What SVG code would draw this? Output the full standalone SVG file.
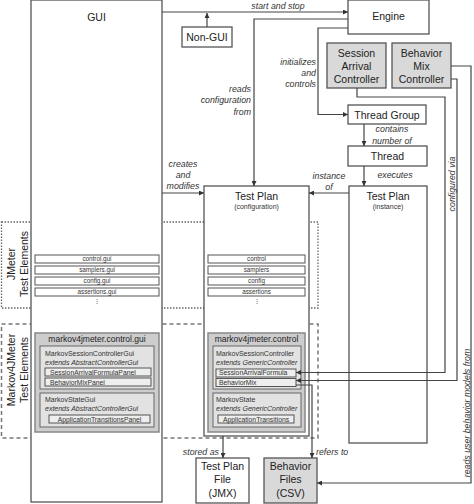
<svg xmlns="http://www.w3.org/2000/svg" width="474" height="504" viewBox="0 0 474 504">
<defs>
<marker id="ah" viewBox="0 0 6 6" refX="6" refY="3" markerWidth="5" markerHeight="5" markerUnits="userSpaceOnUse" orient="auto"><path d="M0,0 L6,3 L0,6 z" fill="#333"/></marker>
<style>
.box{fill:#fff;stroke:#555;stroke-width:1.3}
.gbox{fill:#d9d9d9;stroke:#555;stroke-width:1.3}
.t{font-family:"Liberation Sans",Arial,sans-serif;font-size:10.5px;fill:#222;text-anchor:middle}
.l{font-family:"Liberation Sans",Arial,sans-serif;font-size:8.8px;font-style:italic;fill:#333}
.s{font-family:"Liberation Sans",Arial,sans-serif;font-size:7px;fill:#333;text-anchor:middle}
.e{font-family:"Liberation Sans",Arial,sans-serif;font-size:6.3px;fill:#333;text-anchor:middle}
.m{font-family:"Liberation Sans",Arial,sans-serif;font-size:7px;fill:#333}
.mi{font-style:italic}
.el{fill:#fff;stroke:#555;stroke-width:1}
.outer{fill:#cdcdcd;stroke:#888;stroke-width:1.5}
.inner{fill:#e2e2e2;stroke:#666;stroke-width:1}
.sub{fill:#eeeeee;stroke:#555;stroke-width:1}
.con{fill:none;stroke:#444;stroke-width:1.2}
.dot{fill:none;stroke:#666;stroke-width:1.3;stroke-dasharray:1.5 1.5}
.dash{fill:none;stroke:#777;stroke-width:1.5;stroke-dasharray:4 3}
</style>
</defs>
<rect width="474" height="504" fill="#fff"/>

<g id="jmeter-test-elements">
<rect class="dot" x="1.5" y="222" width="316.5" height="86"/>
<text class="t" transform="translate(15,264) rotate(-90)">JMeter</text>
<text class="t" transform="translate(28,264) rotate(-90)">Test Elements</text>
</g>
<g id="markov-test-elements">
<rect class="dash" x="1.5" y="324" width="316.5" height="114"/>
<text class="t" transform="translate(15,370) rotate(-90)">Markov4JMeter</text>
<text class="t" transform="translate(28,370) rotate(-90)">Test Elements</text>
</g>

<g id="gui">
<rect class="box" x="31" y="0" width="131" height="502" fill="none"/>
<text class="t" x="96.5" y="21">GUI</text>
<rect class="el" x="35" y="255" width="124" height="8"/><text class="e" x="97" y="261.3">control.gui</text>
<rect class="el" x="35" y="266" width="124" height="8"/><text class="e" x="97" y="272.3">samplers.gui</text>
<rect class="el" x="35" y="277" width="124" height="8"/><text class="e" x="97" y="283.3">config.gui</text>
<rect class="el" x="35" y="288" width="124" height="8"/><text class="e" x="97" y="294.3">assertions.gui</text>
<text class="e" x="97" y="303">⋮</text>
<rect class="outer" x="35" y="333" width="124" height="99"/>
<text class="t" x="97" y="342" style="font-size:8.5px">markov4jmeter.control.gui</text>
<rect class="inner" x="40" y="346" width="114" height="43"/>
<text class="m" x="45" y="355.5">MarkovSessionControllerGui</text>
<text class="m mi" x="45" y="364.5">extends AbstractControllerGui</text>
<rect class="sub" x="45" y="368" width="106" height="8"/><text class="m" x="50" y="374.5" style="font-size:6.8px">SessionArrivalFormulaPanel</text>
<rect class="sub" x="45" y="378" width="106" height="8"/><text class="m" x="50" y="384.5" style="font-size:6.8px">BehaviorMixPanel</text>
<rect class="inner" x="40" y="393" width="114" height="34"/>
<text class="m" x="45" y="401.5">MarkovStateGui</text>
<text class="m mi" x="45" y="410.5">extends AbstractControllerGui</text>
<rect class="sub" x="49" y="415" width="101" height="8"/><text class="s" x="99.5" y="421.5" style="font-size:6.8px">ApplicationTransitionsPanel</text>
</g>

<g id="non-gui">
<rect class="box" x="182" y="27" width="50" height="20"/>
<text class="t" x="207" y="41">Non-GUI</text>
</g>

<g id="engine">
<rect class="box" x="348" y="0" width="81" height="34"/>
<text class="t" x="388.5" y="20">Engine</text>
</g>

<g id="session-arrival-controller">
<rect class="gbox" x="327" y="43" width="59" height="45"/>
<text class="t" x="356.5" y="56.5">Session</text>
<text class="t" x="356.5" y="69.5">Arrival</text>
<text class="t" x="356.5" y="82.5">Controller</text>
</g>

<g id="behavior-mix-controller">
<rect class="gbox" x="392" y="43" width="59" height="45"/>
<text class="t" x="421.5" y="56.5">Behavior</text>
<text class="t" x="421.5" y="69.5">Mix</text>
<text class="t" x="421.5" y="82.5">Controller</text>
</g>

<g id="thread-group">
<rect class="box" x="348" y="105" width="78" height="19"/>
<text class="t" x="387" y="118.5">Thread Group</text>
</g>

<g id="thread">
<rect class="box" x="348" y="146" width="79" height="20"/>
<text class="t" x="387.5" y="159.5">Thread</text>
</g>

<g id="test-plan-instance">
<rect class="box" x="349" y="186" width="78" height="257"/>
<text class="t" x="388" y="200">Test Plan</text>
<text class="s" x="388" y="209">(instance)</text>
</g>

<g id="test-plan-config">
<rect class="box" x="204" y="186" width="105" height="250"/>
<text class="t" x="256.5" y="200">Test Plan</text>
<text class="s" x="256.5" y="209">(configuration)</text>
<rect class="el" x="208" y="255" width="97" height="8"/><text class="e" x="256.5" y="261.3">control</text>
<rect class="el" x="208" y="266" width="97" height="8"/><text class="e" x="256.5" y="272.3">samplers</text>
<rect class="el" x="208" y="277" width="97" height="8"/><text class="e" x="256.5" y="283.3">config</text>
<rect class="el" x="208" y="288" width="97" height="8"/><text class="e" x="256.5" y="294.3">assertions</text>
<text class="e" x="256.5" y="303">⋮</text>
<rect class="outer" x="208" y="333" width="97" height="99"/>
<text class="t" x="256.5" y="342" style="font-size:8.5px">markov4jmeter.control</text>
<rect class="inner" x="213" y="346" width="88" height="43"/>
<text class="m" x="216" y="355.5">MarkovSessionController</text>
<text class="m mi" x="216" y="364.5">extends GenericController</text>
<rect class="sub" x="216" y="369" width="80" height="8"/><text class="m" x="219" y="375.3" style="font-size:6.8px">SessionArrivalFormula</text>
<rect class="sub" x="216" y="378.5" width="80" height="8"/><text class="m" x="219" y="384.8" style="font-size:6.8px">BehaviorMix</text>
<rect class="inner" x="213" y="393" width="88" height="34"/>
<text class="m" x="216" y="401.5">MarkovState</text>
<text class="m mi" x="216" y="410.5">extends GenericController</text>
<rect class="sub" x="218" y="415" width="76" height="8"/><text class="s" x="256" y="421.5" style="font-size:6.8px">ApplicationTransitions</text>
</g>

<g id="test-plan-file">
<rect class="box" x="196" y="458" width="53" height="45"/>
<text class="t" x="222.5" y="469.5">Test Plan</text>
<text class="t" x="222.5" y="482.5">File</text>
<text class="t" x="222.5" y="496.5">(JMX)</text>
</g>

<g id="behavior-files">
<rect class="gbox" x="264" y="458" width="53" height="45"/>
<text class="t" x="290.5" y="469.5">Behavior</text>
<text class="t" x="290.5" y="482.5">Files</text>
<text class="t" x="290.5" y="496.5">(CSV)</text>
</g>

<g id="connectors">
<path class="con" d="M162,12 H348" marker-end="url(#ah)"/>
<path class="con" d="M207,27 V13" marker-end="url(#ah)"/>
<path class="con" d="M348,19 H254 V186" marker-end="url(#ah)"/>
<path class="con" d="M348,28 H318 V114.5 H348" marker-end="url(#ah)"/>
<path class="con" d="M364,124 V146" marker-end="url(#ah)"/>
<path class="con" d="M364,166 V186" marker-end="url(#ah)"/>
<path class="con" d="M349,193 H309" marker-end="url(#ah)"/>
<path class="con" d="M162,193 H204" marker-end="url(#ah)"/>
<path class="con" d="M357,88 V97 H445 V372.5 H296" marker-end="url(#ah)"/>
<path class="con" d="M451,79 H457 V380.5 H296" marker-end="url(#ah)"/>
<path class="con" d="M451,66 H471 V483 H317" marker-end="url(#ah)"/>
<path class="con" d="M296,385 H312 V458" marker-end="url(#ah)"/>
<path class="con" d="M223,436 V458" marker-end="url(#ah)"/>
<text class="l" x="278" y="9" text-anchor="middle">start and stop</text>
<text class="l" x="251" y="92" text-anchor="end">reads</text>
<text class="l" x="251" y="103" text-anchor="end">configuration</text>
<text class="l" x="251" y="114.5" text-anchor="end">from</text>
<text class="l" x="316" y="65" text-anchor="end">initializes</text>
<text class="l" x="316" y="76" text-anchor="end">and</text>
<text class="l" x="316" y="86.5" text-anchor="end">controls</text>
<text class="l" x="392" y="132" text-anchor="middle">contains</text>
<text class="l" x="392" y="144" text-anchor="middle">number of</text>
<text class="l" x="395" y="178" text-anchor="middle">executes</text>
<text class="l" x="329" y="179" text-anchor="middle">instance</text>
<text class="l" x="329" y="190" text-anchor="middle">of</text>
<text class="l" x="183" y="167" text-anchor="middle">creates</text>
<text class="l" x="183" y="178" text-anchor="middle">and</text>
<text class="l" x="183" y="189" text-anchor="middle">modifies</text>
<text class="l" x="219" y="455" text-anchor="end">stored as</text>
<text class="l" x="316" y="455">refers to</text>
<text class="l" text-anchor="middle" transform="translate(454.5,184) rotate(-90)">configured via</text>
<text class="l" text-anchor="middle" transform="translate(470,413) rotate(-90)">reads user behavior models from</text>
</g>
</svg>
